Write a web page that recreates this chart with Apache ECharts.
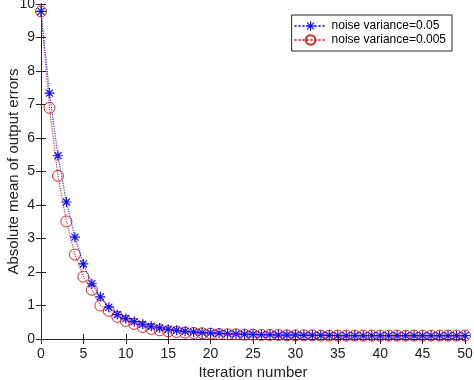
<!DOCTYPE html>
<html>
<head>
<meta charset="utf-8">
<script src="https://cdn.jsdelivr.net/npm/echarts@6/dist/echarts.min.js"></script>
<style>html,body{margin:0;padding:0;background:#fff}#c{width:474px;height:380px}</style>
</head>
<body>
<div id="c"></div>
<script>
var iterations = [0,1,2,3,4,5,6,7,8,9,10,11,12,13,14,15,16,17,18,19,20,21,22,23,24,25,26,27,28,29,30,31,32,33,34,35,36,37,38,39,40,41,42,43,44,45,46,47,48,49,50];
var noise005 = [9.78,7.34,5.47,4.09,3.04,2.24,1.65,1.26,0.95,0.73,0.61,0.52,0.44,0.38,0.33,0.29,0.26,0.23,0.21,0.19,0.18,0.17,0.16,0.15,0.14,0.14,0.13,0.13,0.12,0.12,0.12,0.11,0.11,0.11,0.11,0.10,0.10,0.10,0.10,0.10,0.10,0.10,0.10,0.10,0.10,0.10,0.10,0.10,0.10,0.10,0.10];
var noise0005 = [9.78,6.90,4.87,3.51,2.52,1.86,1.47,1.00,0.84,0.66,0.54,0.45,0.36,0.30,0.26,0.23,0.21,0.19,0.18,0.17,0.16,0.15,0.14,0.14,0.13,0.13,0.12,0.12,0.12,0.11,0.11,0.11,0.11,0.10,0.10,0.10,0.10,0.10,0.10,0.10,0.10,0.10,0.10,0.10,0.10,0.10,0.10,0.10,0.10,0.10,0.10];
var seriesNames = ['noise variance=0.05','noise variance=0.005'];
var xTicks = [0,5,10,15,20,25,30,35,40,45,50];
var yTicks = [0,1,2,3,4,5,6,7,8,9,10];

function pairs(vals){ return iterations.map(function(x,i){ return [x, vals[i]]; }); }

var star = 'path://M8.8,0H11.2V20H8.8Z M0,8.8H20V11.2H0Z M2.1,3.8L3.8,2.1L17.9,16.2L16.2,17.9Z M16.2,2.1L17.9,3.8L3.8,17.9L2.1,16.2Z';
var axisColor = '#262626';
var font = 'Liberation Sans, Arial, sans-serif';

var chart = echarts.init(document.getElementById('c'));
chart.setOption({
  animation: false,
  backgroundColor: '#fff',
  grid: {left: 41, right: 9, top: 4, bottom: 41, containLabel: false, outerBoundsMode: 'none'},
  legend: {
    top: 15, right: 22,
    orient: 'vertical',
    backgroundColor: '#fff',
    borderColor: axisColor, borderWidth: 1,
    padding: [5, 6, 5, 2],
    itemGap: 2,
    itemWidth: 32, itemHeight: 12,
    textStyle: {fontFamily: font, fontSize: 12, color: '#000'},
    data: seriesNames
  },
  xAxis: [{
    type: 'value', min: 0, max: 50, interval: 5,
    name: 'Iteration number', nameLocation: 'middle', nameGap: 26, nameMoveOverlap: false,
    nameTextStyle: {fontFamily: font, fontSize: 15, color: '#222'},
    axisLine: {lineStyle: {color: axisColor}},
    axisTick: {inside: true, length: 5, lineStyle: {color: axisColor}},
    axisLabel: {fontFamily: font, fontSize: 14, color: '#222', margin: 8},
    splitLine: {show: false}
  },{
    type: 'value', min: 0, max: 50, interval: 5, position: 'top',
    axisLine: {show: true, lineStyle: {color: axisColor}},
    axisTick: {inside: true, length: 5, lineStyle: {color: axisColor}},
    axisLabel: {show: false}, splitLine: {show: false}
  }],
  yAxis: [{
    type: 'value', min: 0, max: 10, interval: 1,
    name: 'Absolute mean of output errors', nameLocation: 'middle', nameGap: 20, nameMoveOverlap: false,
    nameTextStyle: {fontFamily: font, fontSize: 15, color: '#222'},
    axisLine: {show: true, lineStyle: {color: axisColor}},
    axisTick: {show: true, inside: true, length: 5, lineStyle: {color: axisColor}},
    axisLabel: {fontFamily: font, fontSize: 14, color: '#222', margin: 6},
    splitLine: {show: false}
  },{
    type: 'value', min: 0, max: 10, interval: 1, position: 'right',
    axisLine: {show: true, lineStyle: {color: axisColor}},
    axisTick: {show: true, inside: true, length: 5, lineStyle: {color: axisColor}},
    axisLabel: {show: false}, splitLine: {show: false}
  }],
  series: [{
    name: seriesNames[0], type: 'line',
    data: pairs(noise005),
    symbol: star, symbolSize: 10,
    itemStyle: {color: '#1010ff'},
    lineStyle: {color: '#3030ff', width: 1.2, type: 'dotted'},
    z: 3
  },{
    name: seriesNames[1], type: 'line',
    data: pairs(noise0005),
    symbol: 'circle', symbolSize: 11,
    itemStyle: {color: 'rgba(255,255,255,0)', borderColor: '#e02020', borderWidth: 1},
    lineStyle: {color: '#e03030', width: 1.2, type: 'dotted'},
    z: 2
  }]
});
</script>
</body>
</html>
